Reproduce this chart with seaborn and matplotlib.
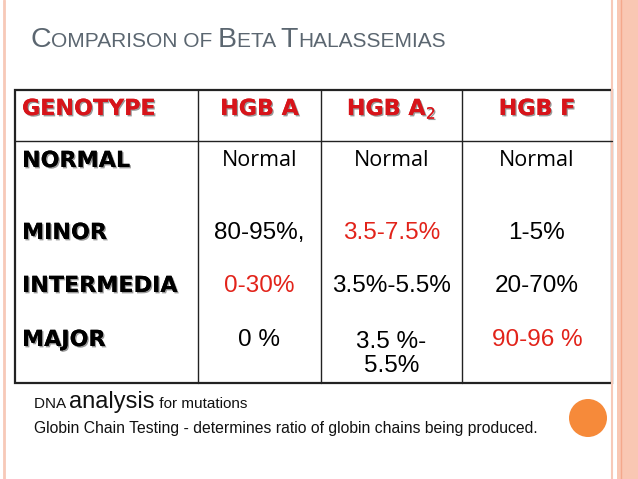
import matplotlib
matplotlib.use("Agg")
import matplotlib.pyplot as plt
import matplotlib.patheffects as pe
from matplotlib.patches import Circle, Rectangle
import seaborn as sns

sns.set_theme(style="white")
plt.rcParams['font.family'] = ['Liberation Sans', 'DejaVu Sans']

headers = ["GENOTYPE", "HGB A", "HGB A$_2$", "HGB F"]
genotypes = ["NORMAL", "MINOR", "INTERMEDIA", "MAJOR"]
hgb_a = ["Normal", "80-95%,", "0-30%", "0 %"]
hgb_a2 = ["Normal", "3.5-7.5%", "3.5%-5.5%", "3.5 %-\n5.5%"]
hgb_f = ["Normal", "1-5%", "20-70%", "90-96 %"]
red_cells = {(1, 2), (2, 1), (3, 3)}

fig = plt.figure(figsize=(6.38, 4.79), dpi=100)
ax = fig.add_axes([0, 0, 1, 1])
ax.set_xlim(0, 638); ax.set_ylim(479, 0); ax.axis("off")

# slide borders
ax.add_patch(Rectangle((617, 0), 21, 479, color="#f9c7b3", lw=0))
ax.plot([612, 612], [0, 479], color="#f7c9b8", lw=1.5)
ax.plot([4, 4], [0, 479], color="#f7c9b8", lw=2)
ax.plot([621, 621], [0, 479], color="#f4a88c", lw=1)

renderer = fig.canvas.get_renderer()
def seq(x, y, parts, color):
    for s, size in parts:
        t = ax.text(x, y, s, fontsize=size, color=color, va="baseline", ha="left")
        bb = t.get_window_extent(renderer)
        x += bb.width
    return x

seq(30, 47, [("C", 20.5), ("OMPARISON OF ", 15), ("B", 20.5), ("ETA ", 15),
             ("T", 20.5), ("HALASSEMIAS", 15)], "#5b6670")

# table
L, R, T, B = 15, 612, 90, 383
cols = [L, 198, 321, 462, R]
ax.add_patch(Rectangle((L, T), R - L, B - T, fill=False, ec="#222222", lw=1.6))
for c in cols[1:-1]:
    ax.plot([c, c], [T, B], color="#222222", lw=1)
ax.plot([L, R], [141, 141], color="#222222", lw=1)

shadow = [pe.withSimplePatchShadow(offset=(1, -1), shadow_rgbFace="#555555", alpha=0.6), pe.Normal()]
centers = [(cols[i] + cols[i + 1]) / 2 for i in range(4)]
for i, h in enumerate(headers):
    x = 22 if i == 0 else centers[i]
    ax.text(x, 109, h, fontsize=16, fontweight="bold", color="#d7141a",
            ha="left" if i == 0 else "center", va="center",
            family=["DejaVu Sans"], path_effects=shadow)

row_y = [161, 233, 286, 340]
for r, g in enumerate(genotypes):
    ax.text(22, row_y[r], g, fontsize=16, fontweight="bold", color="black",
            ha="left", va="center", family=["DejaVu Sans"], path_effects=shadow)
    for c, vals in enumerate([hgb_a, hgb_a2, hgb_f], start=1):
        v = vals[r]
        col = "#e2231a" if (r, c) in red_cells else "black"
        fam = ["Open Sans"] if v == "Normal" else ["Liberation Sans"]
        size = 15.5 if v == "Normal" else 17.5
        ax.text(centers[c], row_y[r] - (0 if "\n" not in v else -14), v, fontsize=size,
                color=col, ha="center", va="center", family=fam, linespacing=1.15)

seq(34, 408, [("DNA ", 11), ("analysis", 17), (" for mutations", 11)], "#111111")
ax.text(34, 433, "Globin Chain Testing - determines ratio of globin chains being produced.",
        fontsize=11.3, color="#111111", va="baseline")

ax.add_patch(Circle((588, 418), 19, color="#f68a3a", lw=0))

fig.savefig("out.png", dpi=100)
